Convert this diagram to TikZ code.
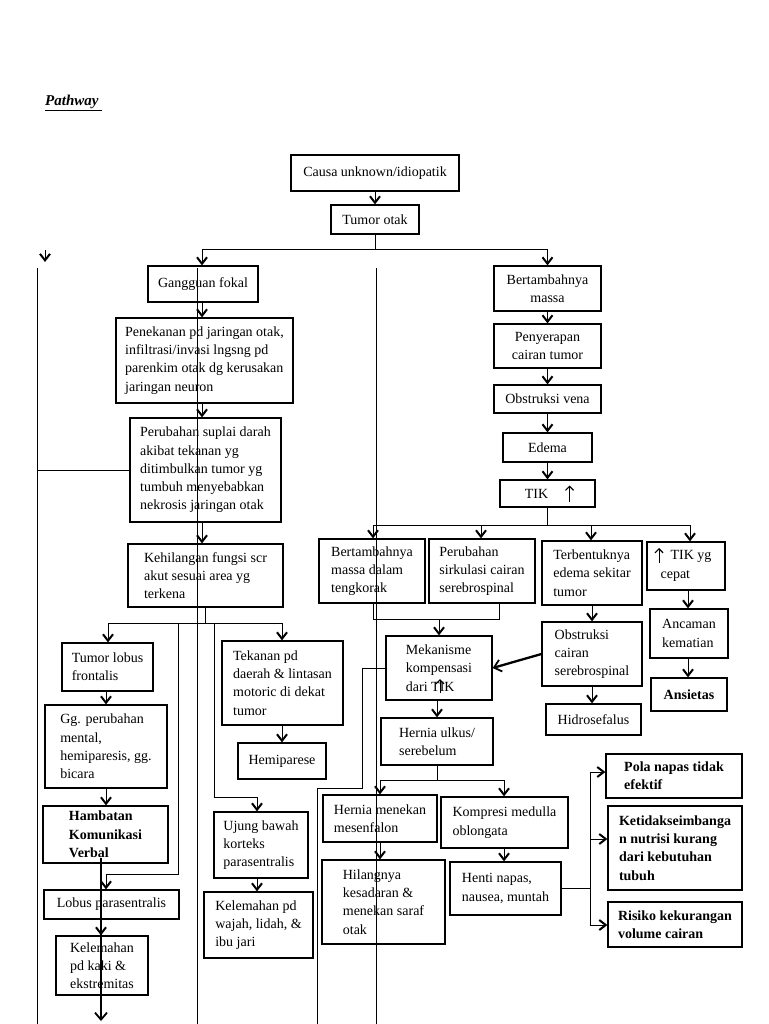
\documentclass[tikz,border=0pt]{standalone}
\usepackage{fontspec}
\setmainfont{Liberation Serif}
\usetikzlibrary{arrows.meta,calc}
\begin{document}
\begin{tikzpicture}[x=1pt,y=-1pt,
  bx/.style={draw, line width=1.2pt, inner xsep=8pt, inner ysep=2pt, align=left, font=\fontsize{14}{18.3}\selectfont},
  bxc/.style={bx, align=center},
  bxb/.style={bx, font=\fontsize{14}{18.3}\selectfont\bfseries},
  ln/.style={line width=0.9pt},
  arr/.style={ln, -{Straight Barb[length=6.5pt,width=10pt,line width=2pt]}},
  thk/.style={line width=2.3pt, -{Straight Barb[length=7pt,width=12pt,line width=1.8pt]}},
  uparr/.style={line width=0.7pt, -{Straight Barb[length=4pt,width=8pt,line width=1.2pt]}}
]
\useasboundingbox (0,0) rectangle (768,1024);
\fill[white] (0,0) rectangle (768,1024);

\node[anchor=west, inner sep=0pt, font=\fontsize{15}{17}\selectfont\bfseries\itshape] (title) at (45,103) {\underline{Pathway~}};

% top
\node[bxc, minimum width=168pt, minimum height=36pt] (causa) at (375,173) {Causa unknown/idiopatik};
\node[bxc, minimum width=88pt, minimum height=29pt] (tumor) at (375,219.5) {Tumor otak};

% left column
\node[bxc, minimum width=110pt, minimum height=36pt] (gf) at (203,284) {Gangguan fokal};
\node[bx, minimum width=177pt, minimum height=85pt] (pen) at (204.5,360.5) {Penekanan pd jaringan otak,\\ infiltrasi/invasi lngsng pd\\ parenkim otak dg kerusakan\\ jaringan neuron};
\node[bx, minimum width=151pt, minimum height=104pt] (per) at (205.5,470) {Perubahan suplai darah\\ akibat tekanan yg\\ ditimbulkan tumor yg\\ tumbuh menyebabkan\\ nekrosis jaringan otak};
\node[bx, minimum width=155pt, minimum height=63pt] (keh) at (205.5,575.5) {Kehilangan fungsi scr\\ akut sesuai area yg\\ terkena};
\node[bx, minimum width=91pt, minimum height=48pt] (tlf) at (107.5,667) {Tumor lobus\\ frontalis};
\node[bx, minimum width=122pt, minimum height=83pt] (gg) at (106,746.5) {Gg. perubahan\\ mental,\\ hemiparesis, gg.\\ bicara};
\node[bxb, minimum width=125pt, minimum height=57pt] (hkv) at (105.5,834.5) {Hambatan\\ Komunikasi\\ Verbal};
\node[bx, minimum width=135pt, minimum height=29pt] (lob) at (111.5,904.5) {Lobus parasentralis};
\node[bx, minimum width=92pt, minimum height=59pt] (kkaki) at (102,965.5) {Kelemahan\\ pd kaki \&\\ ekstremitas};
\node[bx, minimum width=121pt, minimum height=84pt] (tek) at (282.5,683) {Tekanan pd\\ daerah \& lintasan\\ motoric di dekat\\ tumor};
\node[bxc, minimum width=88pt, minimum height=36pt] (hemi) at (282,761) {Hemiparese};
\node[bx, minimum width=94pt, minimum height=66pt] (ujung) at (261,845) {Ujung bawah\\ korteks\\ parasentralis};
\node[bx, minimum width=109pt, minimum height=66pt] (kwaj) at (258.5,925) {Kelemahan pd\\ wajah, lidah, \&\\ ibu jari};

% right top column
\node[bxc, minimum width=107pt, minimum height=45pt] (bm) at (547.5,288.5) {Bertambahnya\\ massa};
\node[bxc, minimum width=107pt, minimum height=44pt] (peny) at (547.5,346) {Penyerapan\\ cairan tumor};
\node[bxc, minimum width=107pt, minimum height=28pt] (obv) at (547.5,399) {Obstruksi vena};
\node[bxc, minimum width=89pt, minimum height=29pt] (ede) at (547.5,447.5) {Edema};
\node[bx, minimum width=95pt, minimum height=27pt] (tik) at (547.5,493.5) {TIK\hspace{22pt}};

% TIK row
\node[bx, minimum width=106pt, minimum height=64pt] (bmt) at (372,571) {Bertambahnya\\ massa dalam\\ tengkorak};
\node[bx, minimum width=106pt, minimum height=64pt] (psc) at (482,571) {Perubahan\\ sirkulasi cairan\\ serebrospinal};
\node[bx, minimum width=100pt, minimum height=64pt] (ter) at (592,573) {Terbentuknya\\ edema sekitar\\ tumor};
\node[bx, minimum width=78pt, minimum height=48pt, inner xsep=6pt] (tikc) at (686,566) {\hspace{10pt}TIK yg\\ cepat};
\node[bx, minimum width=106pt, minimum height=64pt] (mek) at (439,668) {Mekanisme\\ kompensasi\\ dari TIK};
\node[bx, minimum width=100pt, minimum height=64pt] (obc) at (592,654) {Obstruksi\\ cairan\\ serebrospinal};
\node[bxc, minimum width=95pt, minimum height=31pt] (hid) at (593.5,719.5) {Hidrosefalus};
\node[bx, minimum width=78pt, minimum height=49pt] (anc) at (689,633.5) {Ancaman\\ kematian};
\node[bxb, minimum width=76pt, minimum height=33pt] (ans) at (689,694.5) {Ansietas};
\node[bx, minimum width=112pt, minimum height=47pt] (hu) at (437,741.5) {Hernia ulkus/\\ serebelum};
\node[bx, minimum width=114pt, minimum height=47pt] (hmm) at (380,818.5) {Hernia menekan\\ mesenfalon};
\node[bx, minimum width=127pt, minimum height=51pt] (kmo) at (504.5,822.5) {Kompresi medulla\\ oblongata};
\node[bx, minimum width=123pt, minimum height=84pt] (hil) at (383.5,902) {Hilangnya\\ kesadaran \&\\ menekan saraf\\ otak};
\node[bx, minimum width=111pt, minimum height=53pt] (hen) at (505.5,888.5) {Henti napas,\\ nausea, muntah};
\node[bxb, minimum width=136pt, minimum height=44pt] (pola) at (674,776) {Pola napas tidak\\ efektif};
\node[bxb, minimum width=134pt, minimum height=84pt] (ket) at (675,848) {Ketidakseimbanga\\ n nutrisi kurang\\ dari kebutuhan\\ tubuh};
\node[bxb, minimum width=134pt, minimum height=45pt] (ris) at (675,924.5) {Risiko kekurangan\\ volume cairan};

% small up arrows inside text
\draw[uparr] ($(tik.center)+(22,8)$) -- ($(tik.center)+(22,-8)$);
\draw[uparr] ($(tikc.center)+(-27,-3)$) -- ($(tikc.center)+(-27,-18)$);
\draw[uparr] ($(mek.center)+(1,25)$) -- ($(mek.center)+(1,11)$);

% free coordinates
\coordinate (topL) at (37,268);
\coordinate (botL) at (37,1024);
\coordinate (topM) at (197,268);
\coordinate (botM) at (197,1024);
\coordinate (topC) at (376,268);
\coordinate (botC) at (376,1024);
\coordinate (strayA) at (45,250);
\coordinate (strayB) at (45,262);
\coordinate (botT) at (101,1021);
\coordinate (botR) at (317,1024);

% top connectors
\draw[arr] (causa) -- (tumor);
\draw[ln] (tumor.south) -- ++(0,14.5) coordinate (tj);
\draw[ln] (tj -| gf.north) ++(-1,0) coordinate (tjl) -- (tj -| bm.north);
\draw[arr] (tjl) -- (tjl |- gf.north);
\draw[arr] (tj -| bm.north) -- (bm.north);
\draw[arr] (strayA) -- (strayB);

% long verticals
\draw[ln] (topL) -- (botL);
\draw[ln] (topM) -- (botM);
\draw[ln] (topC) -- (botC);
\draw[ln] (topL |- per.west) -- (per.west);

% left chain
\draw[arr] (gf.south -| 202,0) -- (pen.north -| 202,0);
\draw[arr] (pen.south -| 202,0) -- (per.north -| 202,0);
\draw[arr] (per.south -| 202,0) -- (keh.north -| 202,0);
\draw[ln] (keh.south -| 205,0) -- (205,623) coordinate (kj);
\draw[ln] (kj -| 108,0) -- (kj -| 282,0);
\draw[arr] (108,623) -- (tlf.north -| 108,0);
\draw[arr] (282,623) -- (tek.north -| 282,0);
\draw[ln] (178,623) -- (178,874) -- (106,874);
\draw[arr] (106,874) -- (lob.north -| 106,0);
\draw[ln] (214,623) -- (214,797) -- (257,797);
\draw[arr] (257,797) -- (ujung.north -| 257,0);
\draw[arr] (tlf.south -| 106,0) -- (gg.north -| 106,0);
\draw[arr] (gg.south -| 106,0) -- (hkv.north -| 106,0);
\draw[arr] (lob.south -| 101,0) -- (kkaki.north -| 101,0);
\draw[thk] (hkv.south -| 101,0) ++(0,-6) -- (botT);
\draw[arr] (tek.south -| 282,0) -- (hemi.north -| 282,0);
\draw[arr] (ujung.south -| 257,0) -- (kwaj.north -| 257,0);

% right top chain
\draw[arr] (bm) -- (peny);
\draw[arr] (peny) -- (obv);
\draw[arr] (obv) -- (ede);
\draw[arr] (ede) -- (tik);
\draw[ln] (tik.south) -- (547.5,525) coordinate (tj2);
\draw[ln] (tj2 -| 373,0) -- (tj2 -| 690,0);
\draw[arr] (373,525) -- (bmt.north -| 373,0);
\draw[arr] (481,525) -- (psc.north -| 481,0);
\draw[arr] (591,525) -- (ter.north -| 591,0);
\draw[arr] (690,525) -- (tikc.north -| 690,0);
\draw[ln] (bmt.south -| 373,0) -- (373,619) -- (499,619) -- (psc.south -| 499,0);
\draw[arr] (439,619) -- (mek.north -| 439,0);
\draw[arr] (ter.south -| 592,0) -- (obc.north -| 592,0);
\draw[arr] (obc.south -| 592,0) -- (hid.north -| 592,0);
\draw[thk] (obc.west) -- (mek.east);
\draw[arr] (tikc.south -| 688,0) -- (anc.north -| 688,0);
\draw[arr] (anc.south -| 688,0) -- (ans.north -| 688,0);

% mekanisme branch
\draw[ln] (mek.west) -- (362,668) -- (362,788) -- (317,788) -- (botR);
\draw[arr] (mek.south -| 437,0) -- (hu.north -| 437,0);
\draw[ln] (hu.south -| 437,0) -- (437,780);
\draw[ln] (380,780) -- (504,780);
\draw[arr] (380,780) -- (hmm.north -| 380,0);
\draw[arr] (504,780) -- (kmo.north -| 504,0);
\draw[arr] (hmm.south -| 380,0) -- (hil.north -| 380,0);
\draw[arr] (kmo.south -| 504,0) -- (hen.north -| 504,0);
\draw[ln] (hen.east) -- (hen.east -| 590,0);
\draw[ln] (590,772) -- (590,925);
\draw[arr] (590,772) -- (pola.west |- 0,772);
\draw[arr] (590,839) -- (ket.west |- 0,839);
\draw[arr] (590,925) -- (ris.west |- 0,925);
\end{tikzpicture}
\end{document}
